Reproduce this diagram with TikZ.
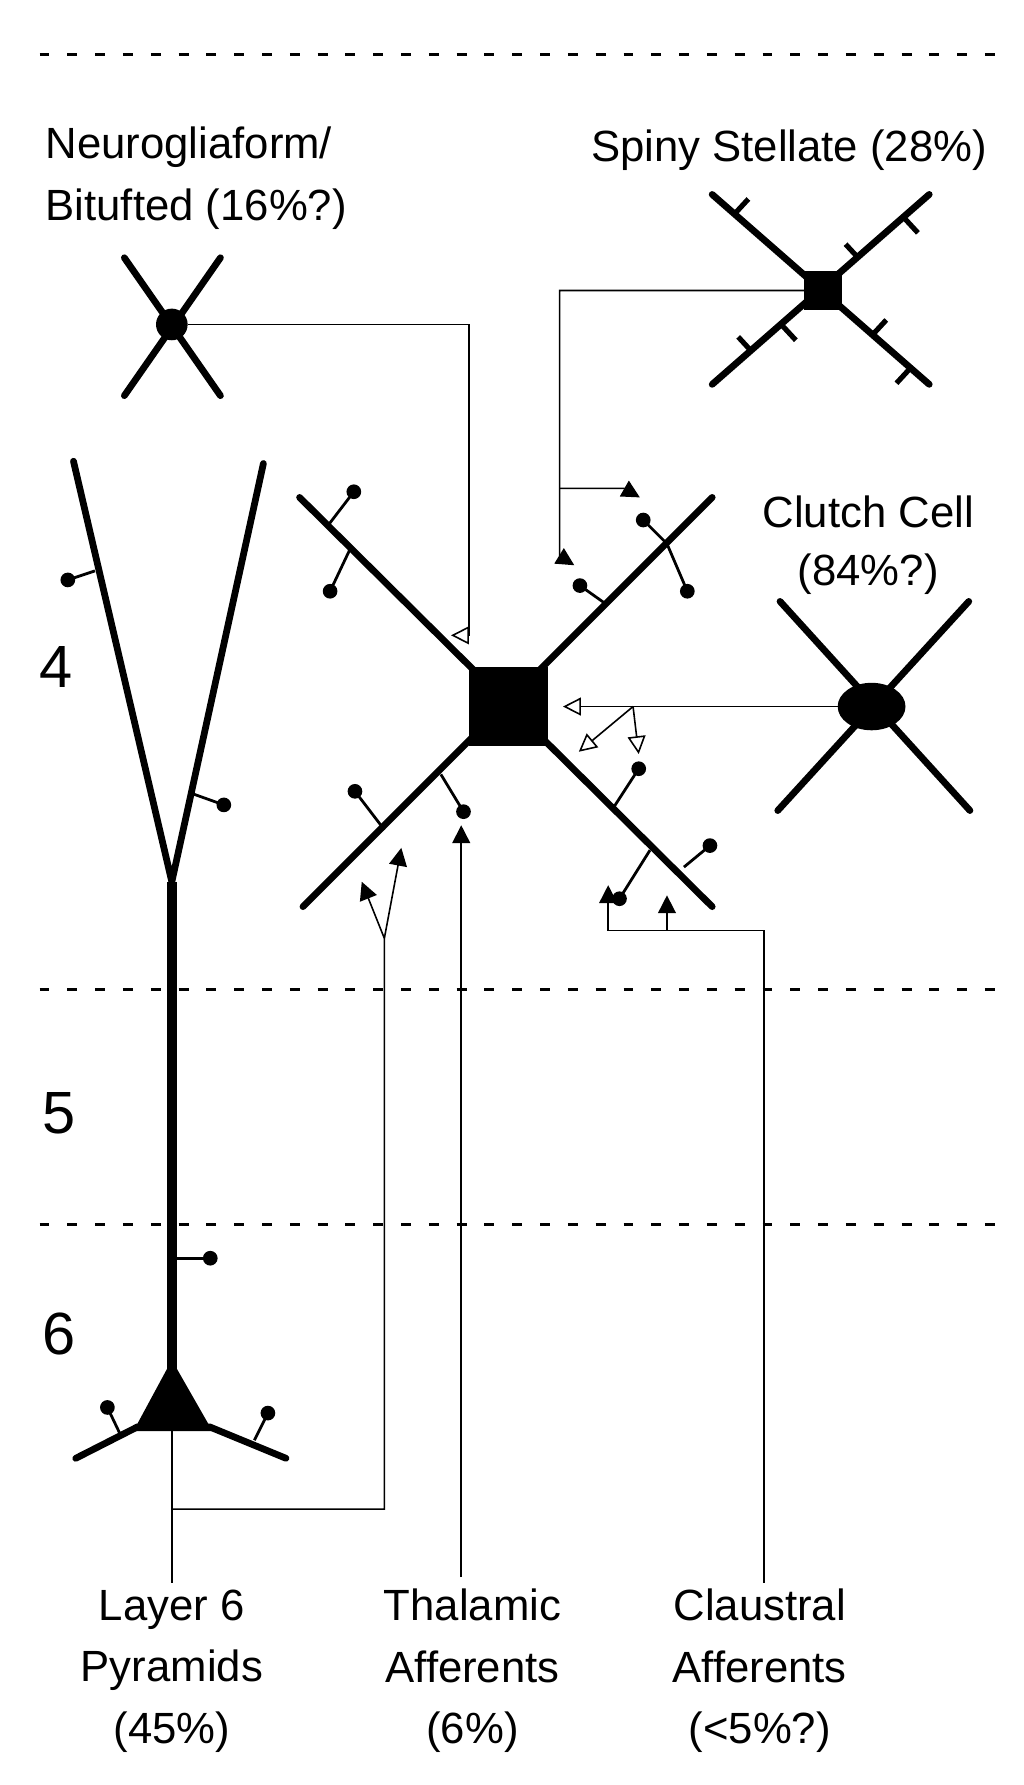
\documentclass[tikz,border=0pt]{standalone}
\usepackage{fontspec}
\setmainfont{Liberation Sans}
\usetikzlibrary{arrows.meta}
\begin{document}
\begin{tikzpicture}[x=0.02cm,y=-0.02cm,
  dend/.style={line width=3.4pt,line cap=round},
  trunk/.style={line width=5pt},
  ax/.style={line width=0.8pt},
  sp/.style={line width=1.4pt},
  tk/.style={line width=2.6pt},
  fa/.style={ax,-{Triangle[length=9pt,width=9pt]}},
  oa/.style={ax,-{Triangle[open,length=9pt,width=9pt,line width=0.8pt]}},
  layer/.style={line width=1.6pt,dash pattern=on 5pt off 9pt},
  lbl/.style={font=\fontsize{22}{27}\selectfont,inner sep=0pt},
  num/.style={font=\fontsize{30}{34}\selectfont,inner sep=0pt}]
\newcommand\spn[2]{\draw[sp] (#1) -- (#2); \fill (#2) circle (0.13cm);}
\useasboundingbox (0,0) rectangle (905,1579);
% layers
\draw[layer] (35,48) -- (880,48);
\draw[layer] (35,875) -- (880,875);
\draw[layer] (35,1083) -- (880,1083);
% labels
\node[lbl,anchor=west] (ng1) at (40,130) {Neurogliaform/};
\node[lbl,anchor=west] (ng2) at (40,185) {Bitufted (16\%?)};
\node[lbl] (ss) at (698,133) {Spiny Stellate (28\%)};
\node[lbl] (cc1) at (768,453) {Clutch Cell};
\node[lbl] (cc2) at (768,508) {(84\%?)};
\node[num] (l4) at (50,590) {4};
\node[num] (l5) at (52,985) {5};
\node[num] (l6) at (52,1180) {6};
\node[lbl,align=center] (pyr) at (152,1478) {Layer 6\\[4pt]Pyramids\\[4pt](45\%)};
\node[lbl,align=center] (tha) at (418,1478) {Thalamic\\[4pt]Afferents\\[4pt](6\%)};
\node[lbl,align=center] (cla) at (672,1478) {Claustral\\[4pt]Afferents\\[4pt](<5\%?)};
% neurogliaform
\draw[dend] (110,228) -- (195,350);
\draw[dend] (195,228) -- (110,350);
\fill (152,287) circle (0.28cm);
\draw[oa] (166,287) -- (415,287) -- (415,562) -- (399,562);
% spiny stellate
\draw[dend] (630,172) -- (822,340);
\draw[dend] (822,172) -- (630,340);
\fill (711,240) rectangle (745,274);
\draw[tk] (650,189) -- ++(12,-13);
\draw[tk] (760,229) -- ++(-12,-13);
\draw[tk] (800,193) -- ++(12,13);
\draw[tk] (665,311) -- ++(-12,-13);
\draw[tk] (692,288) -- ++(12,13);
\draw[tk] (772,296) -- ++(12,-13);
\draw[tk] (805,326) -- ++(-12,13);
\draw[fa] (711,257) -- (495,257) -- (495,492) -- (508,500);
\draw[fa] (495,432) -- (552,432) -- (566,440);
% main spiny cell
\draw[dend] (265,440) -- (630,802);
\draw[dend] (630,440) -- (268,802);
\fill (415,590) rectangle (485,660);
\spn{290,465}{313,435}
\spn{310,485}{292,523}
\spn{590,481}{569,460}
\spn{590,481}{608,523}
\spn{537,535}{513,518}
\spn{541,717}{565,680}
\spn{605,767}{628,748}
\spn{575,752}{548,795}
\spn{340,734}{314,700}
\spn{390,685}{410,718}
% clutch cell
\draw[dend] (690,532) -- (858,717);
\draw[dend] (857,532) -- (688,717);
\fill (771,625) ellipse (0.6cm and 0.42cm);
\draw[oa] (742,625) -- (498,625);
\draw[oa] (560,625) -- (512,665);
\draw[oa] (560,625) -- (565,667);
% pyramid
\draw[dend] (65,408) -- (152,780) -- (233,410);
\draw[trunk] (152,780) -- (152,1215);
\spn{84,505}{60,513}
\spn{170,702}{198,712}
\spn{152,1113}{186,1113}
\draw[dend] (122,1262) -- (67,1290);
\draw[dend] (185,1262) -- (253,1290);
\fill (152,1203) -- (188,1266) -- (118,1266) -- cycle;
\spn{106,1268}{95,1245}
\spn{225,1274}{237,1250}
% afferents
\draw[ax] (152,1266) -- (152,1400);
\draw[fa] (152,1335) -- (340,1335) -- (340,830) -- (320,780);
\draw[fa] (340,830) -- (355,750);
\draw[fa] (408,1395) -- (408,730);
\draw[fa] (676,1400) -- (676,823) -- (538,823) -- (538,783);
\draw[fa] (590,823) -- (590,792);
\end{tikzpicture}
\end{document}
